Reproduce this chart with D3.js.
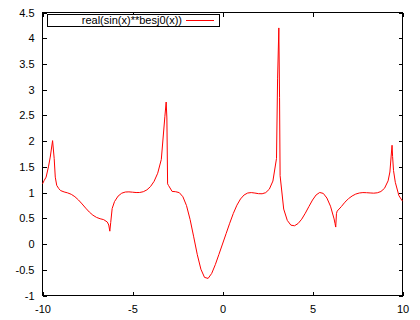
<!DOCTYPE html>
<html>
<head>
<meta charset="utf-8">
<script src="https://cdn.jsdelivr.net/npm/d3@7"></script>
<style>
  body { margin: 0; background: #fff; }
  text { font-family: "Liberation Sans", Arial, sans-serif; font-size: 11px; fill: #000; }
</style>
</head>
<body>
<div id="chart-area"></div>
<script>
// values
const xs = [-10, -9.9, -9.8, -9.67, -9.57, -9.44, -9.35, -9.29, -9.21, -9.1, -9.0, -8.8, -8.6, -8.4, -8.2,
  -8.0, -7.8, -7.6, -7.4, -7.2, -7.0, -6.8, -6.6, -6.4, -6.32, -6.26, -6.21, -6.13, -6.0, -5.8,
  -5.6, -5.4, -5.2, -5.0, -4.8, -4.6, -4.4, -4.2, -4.0, -3.8, -3.6, -3.4, -3.2, -3.13, -3.09,
  -3.05, -3.0, -2.8, -2.6, -2.4, -2.2, -2.0, -1.8, -1.6, -1.4, -1.2, -1.0, -0.8, -0.6, -0.4,
  -0.2, 0, 0.2, 0.4, 0.6, 0.8, 1.0, 1.2, 1.4, 1.6, 1.8, 2.0, 2.2, 2.4, 2.6,
  2.8, 3.0, 3.06, 3.13, 3.17, 3.2, 3.4, 3.6, 3.8, 4.0, 4.2, 4.4, 4.6, 4.8, 5.0,
  5.2, 5.4, 5.6, 5.8, 6.0, 6.2, 6.25, 6.29, 6.33, 6.37, 6.6, 6.8, 7.0, 7.2, 7.4,
  7.6, 7.8, 8.0, 8.2, 8.4, 8.6, 8.8, 9.0, 9.2, 9.3, 9.37, 9.42, 9.45, 9.5, 9.6,
  9.8, 10]
const ys = [1.17, 1.24, 1.30, 1.50, 1.69, 2.01, 1.66, 1.30, 1.14, 1.08, 1.04, 1.013, 0.994, 0.966, 0.920,
  0.856, 0.779, 0.698, 0.622, 0.561, 0.518, 0.492, 0.474, 0.428, 0.37, 0.25, 0.42, 0.69, 0.825, 0.932,
  0.988, 1.011, 1.014, 1.008, 1.001, 1.002, 1.017, 1.053, 1.117, 1.219, 1.376, 1.644, 2.483, 2.76, 2.45,
  1.17, 1.139, 1.023, 1.017, 0.999, 0.919, 0.747, 0.477, 0.140, -0.207, -0.489, -0.648, -0.668, -0.571, -0.401,
  -0.202, 0, 0.202, 0.404, 0.594, 0.755, 0.876, 0.954, 0.992, 1.000, 0.991, 0.979, 0.977, 0.999, 1.066,
  1.224, 1.664, 3.21, 4.20, 2.85, 1.33, 0.680, 0.459, 0.367, 0.355, 0.399, 0.483, 0.599, 0.729, 0.855,
  0.954, 1.002, 0.984, 0.894, 0.735, 0.488, 0.40, 0.33, 0.59, 0.64, 0.727, 0.813, 0.882, 0.934, 0.971,
  0.992, 1.000, 0.998, 0.993, 0.989, 0.996, 1.021, 1.083, 1.228, 1.40, 1.71, 1.92, 1.70, 1.43, 1.20,
  0.941, 0.832]

const xTicks = [-10, -5, 0, 5, 10]
const yTicks = [-1, -0.5, 0, 0.5, 1, 1.5, 2, 2.5, 3, 3.5, 4, 4.5]
const seriesName = "real(sin(x)**besj0(x))"

var cw = 420
var ch = 320
var m = {l: 42.5, t: 12.5, r: 17.5, b: 24.5}
var w = cw - m.l - m.r
var h = ch - m.t - m.b

var svg = d3.select("#chart-area").append("svg")
    .attr("width", cw)
    .attr("height", ch)

svg.append("rect").attr("width", cw).attr("height", ch).attr("fill", "#fff")

var g = svg.append("g").attr("transform", "translate(" + m.l + ", " + m.t + ")")

var x = d3.scaleLinear().domain([-10, 10]).range([0, w])
var y = d3.scaleLinear().domain([-1, 4.5]).range([h, 0])

const fmt = d => String(d)

var bottomAxis = d3.axisBottom(x).tickValues(xTicks).tickFormat(fmt).tickSize(-4).tickPadding(10)
var topAxis = d3.axisTop(x).tickValues(xTicks).tickFormat("").tickSize(-4)
var leftAxis = d3.axisLeft(y).tickValues(yTicks).tickFormat(fmt).tickSize(-4).tickPadding(8)
var rightAxis = d3.axisRight(y).tickValues(yTicks).tickFormat("").tickSize(-4)

g.append("g").attr("transform", "translate(0," + h + ")").call(bottomAxis)
g.append("g").call(topAxis)
g.append("g").call(leftAxis)
g.append("g").attr("transform", "translate(" + w + ",0)").call(rightAxis)

g.selectAll(".domain").remove()
g.selectAll(".tick line").attr("stroke", "#000").attr("shape-rendering", "crispEdges")
g.selectAll(".tick text")
    .attr("font-family", "Liberation Sans, Arial, sans-serif")
    .attr("font-size", "11px")
    .attr("fill", "#000")

g.append("rect")
    .attr("width", w)
    .attr("height", h)
    .attr("fill", "none")
    .attr("stroke", "#000")
    .attr("shape-rendering", "crispEdges")

var line = d3.line()
    .x((d, i) => x(xs[i]))
    .y(d => y(d))

g.append("path")
    .datum(ys)
    .attr("d", line)
    .attr("fill", "none")
    .attr("stroke", "#ff0000")
    .attr("stroke-width", 1)

// legend
var legend = svg.append("g")
legend.append("rect")
    .attr("x", 47.5).attr("y", 14.5)
    .attr("width", 172).attr("height", 11.5)
    .attr("fill", "#fff")
    .attr("stroke", "#000")
    .attr("shape-rendering", "crispEdges")
legend.append("text")
    .attr("x", 182).attr("y", 24)
    .attr("text-anchor", "end")
    .text(seriesName)
legend.append("line")
    .attr("x1", 186).attr("x2", 214)
    .attr("y1", 20.5).attr("y2", 20.5)
    .attr("stroke", "#ff0000")
</script>
</body>
</html>
